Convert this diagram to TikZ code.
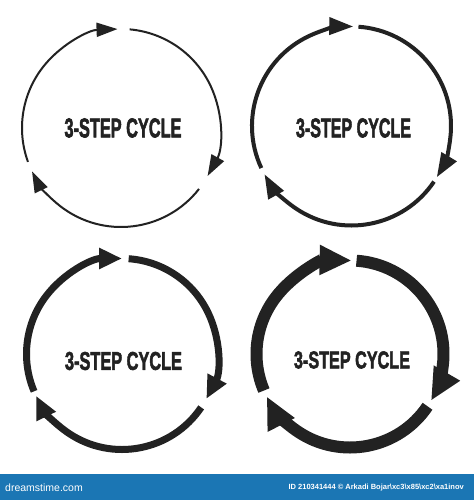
\documentclass[tikz,border=0pt]{standalone}
\usepackage{fontspec}
\usepackage{graphicx}
\setmainfont{Liberation Sans}
\newfontfamily\cycfont[FakeBold=2.5]{Liberation Sans Bold}
\usetikzlibrary{arrows.meta}
\definecolor{ink}{HTML}{222222}
\definecolor{barblue}{HTML}{1B76B4}
\newcommand{\cyctext}[2]{\resizebox{#1pt}{#2pt}{\cycfont 3-STEP CYCLE}}
\begin{document}
\begin{tikzpicture}[x=1pt,y=1pt,
  ring/.style={draw=ink, line cap=butt},
  cyclabel/.style={text=ink, inner sep=0pt, anchor=center},
  bartext/.style={text=white, inner sep=0pt},
]
\useasboundingbox (0,0) rectangle (474,500);
\fill[white] (0,0) rectangle (474,500);

% ---------- top left ----------
\coordinate (c1) at (121,372);
\begin{scope}[ring, line width=2pt, -{Triangle[length=21pt,width=14pt]}]
  \draw ([shift={(85:99)}]c1) arc[start angle=85, end angle=-29, radius=99];
  \draw ([shift={(-38:99)}]c1) arc[start angle=-38, end angle=-154, radius=99];
  \draw ([shift={(-160:99)}]c1) arc[start angle=-160, end angle=-268, radius=99];
\end{scope}
\node[cyclabel] (t1) at (123,372) {\cyctext{117}{19}};

% ---------- top right ----------
\coordinate (c2) at (351.5,374);
\begin{scope}[ring, line width=4pt, -{Triangle[length=24pt,width=17pt]}]
  \draw ([shift={(86:99.5)}]c2) arc[start angle=86, end angle=-31, radius=99.5];
  \draw ([shift={(-34:99.5)}]c2) arc[start angle=-34, end angle=-151, radius=99.5];
  \draw ([shift={(-155:99.5)}]c2) arc[start angle=-155, end angle=-271, radius=99.5];
\end{scope}
\node[cyclabel] (t2) at (353.5,372) {\cyctext{115}{19}};

% ---------- bottom left ----------
\coordinate (c3) at (122,146);
\begin{scope}[ring, line width=7pt, -{Triangle[length=23pt,width=20pt]}]
  \draw ([shift={(86:95.5)}]c3) arc[start angle=86, end angle=-28, radius=95.5];
  \draw ([shift={(-34:95.5)}]c3) arc[start angle=-34, end angle=-154, radius=95.5];
  \draw ([shift={(-157:95.5)}]c3) arc[start angle=-157, end angle=-270, radius=95.5];
\end{scope}
\node[cyclabel] (t3) at (123.5,139) {\cyctext{117}{18}};

% ---------- bottom right ----------
\coordinate (c4) at (350,146);
\begin{scope}[ring, line width=12pt, -{Triangle[length=32pt,width=28pt]}]
  \draw ([shift={(86:93.5)}]c4) arc[start angle=86, end angle=-30, radius=93.5];
  \draw ([shift={(-34:93.5)}]c4) arc[start angle=-34, end angle=-153, radius=93.5];
  \draw ([shift={(-157:93.5)}]c4) arc[start angle=-157, end angle=-271, radius=93.5];
\end{scope}
\node[cyclabel] (t4) at (352,140) {\cyctext{116}{17}};

% ---------- bottom bar ----------
\fill[barblue] (0,0) rectangle (474,26);
\node[bartext, anchor=west] (brand) at (5,12.5) {\fontsize{10.5}{12}\selectfont dreamstime.com};
\node[bartext, anchor=east] (credit) at (464,12.5)
  {\fontsize{7.5}{9}\selectfont\bfseries ID 210341444 \textcopyright{} Arkadi Bojar\textbackslash xc3\textbackslash x85\textbackslash xc2\textbackslash xa1inov};
\end{tikzpicture}
\end{document}
